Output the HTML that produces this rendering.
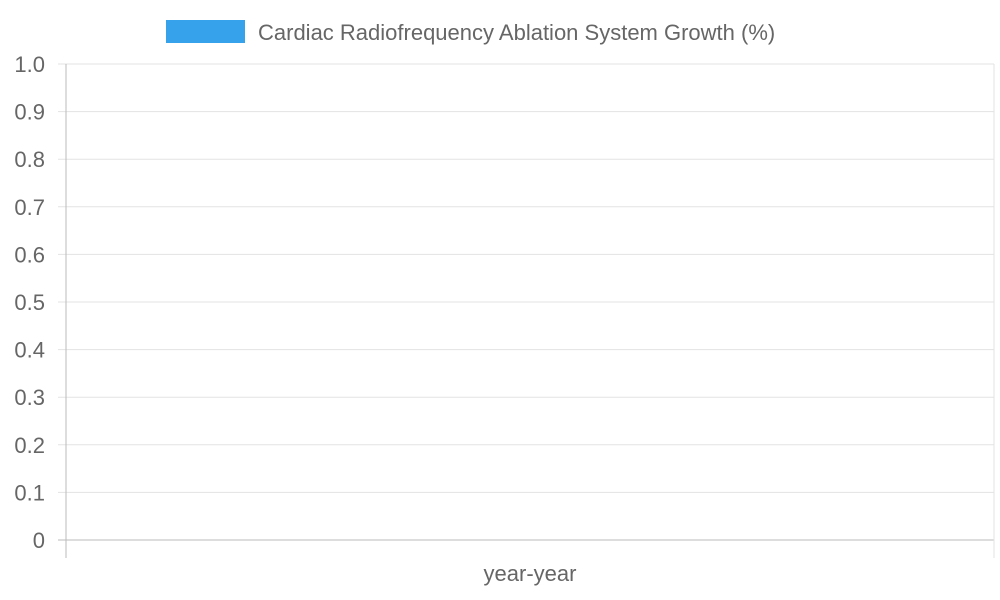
<!DOCTYPE html>
<html>
<head>
<meta charset="utf-8">
<style>
  html,body{margin:0;padding:0;background:#fff;}
  svg{display:block;font-family:"Liberation Sans",sans-serif;}
</style>
</head>
<body>
<svg id="chart" width="1000" height="600">
  <g>
    <rect x="166" y="20" width="79" height="23" fill="#36a2eb"></rect>
    <text x="258" y="40" font-size="22" fill="#666">Cardiac Radiofrequency Ablation System Growth (%)</text>
  </g>
  <g id="grid"></g>
  <g id="yaxis"></g>
  <g id="xaxis"></g>
  <g id="bars"></g>
</svg>
<script>
const categories = ["year-year"];
const seriesValues = [];
const yTicks = [0, 0.1, 0.2, 0.3, 0.4, 0.5, 0.6, 0.7, 0.8, 0.9, 1.0];
const yTickLabels = ["0","0.1","0.2","0.3","0.4","0.5","0.6","0.7","0.8","0.9","1.0"];

const NS = "http://www.w3.org/2000/svg";
const L = 66, R = 994, T = 64, B = 540;
const yScale = v => B - (v - 0) / (1 - 0) * (B - T);
const bandW = (R - L) / categories.length;
const xScale = i => L + bandW * (i + 0.5);

function mk(tag, attrs, parent) {
  const el = document.createElementNS(NS, tag);
  for (const k in attrs) el.setAttribute(k, attrs[k]);
  parent.appendChild(el);
  return el;
}
const grid = document.getElementById("grid");
const yaxis = document.getElementById("yaxis");
const xaxis = document.getElementById("xaxis");
const bars = document.getElementById("bars");

yTicks.forEach((v, i) => {
  const y = yScale(v);
  const g = mk("line", {x1: L - 8, x2: R, y1: y, y2: y, stroke: v === 0 ? "#bbb" : "#e3e3e3", "stroke-width": 1}, grid);
  
  
  const t = mk("text", {x: 45, y: y + 8, "text-anchor": "end", "font-size": 22, fill: "#666"}, yaxis);
  t.textContent = yTickLabels[i];
  
  
});
const ya = mk("line", {x1: L, x2: L, y1: T, y2: B, stroke: "#bbb", "stroke-width": 1}, yaxis);



for (let i = 0; i <= categories.length; i++) {
  const x = L + bandW * i;
  const tk = mk("line", {x1: x, x2: x, y1: i === 0 ? B : T, y2: 558, stroke: i === 0 ? "#bbb" : "#e3e3e3", "stroke-width": 1}, xaxis);
  
  
}
categories.forEach((c, i) => {
  const t = mk("text", {x: xScale(i), y: 581, "text-anchor": "middle", "font-size": 22, fill: "#666"}, xaxis);
  t.textContent = c;
  
  
});
seriesValues.forEach((v, i) => {
  const w = bandW * 0.8 * 0.9;
  const y = yScale(v);
  const b = mk("rect", {x: xScale(i) - w / 2, y: Math.min(y, B), width: w, height: Math.abs(B - y), fill: "#36a2eb"}, bars);
  
  
});
</script>
</body>
</html>
